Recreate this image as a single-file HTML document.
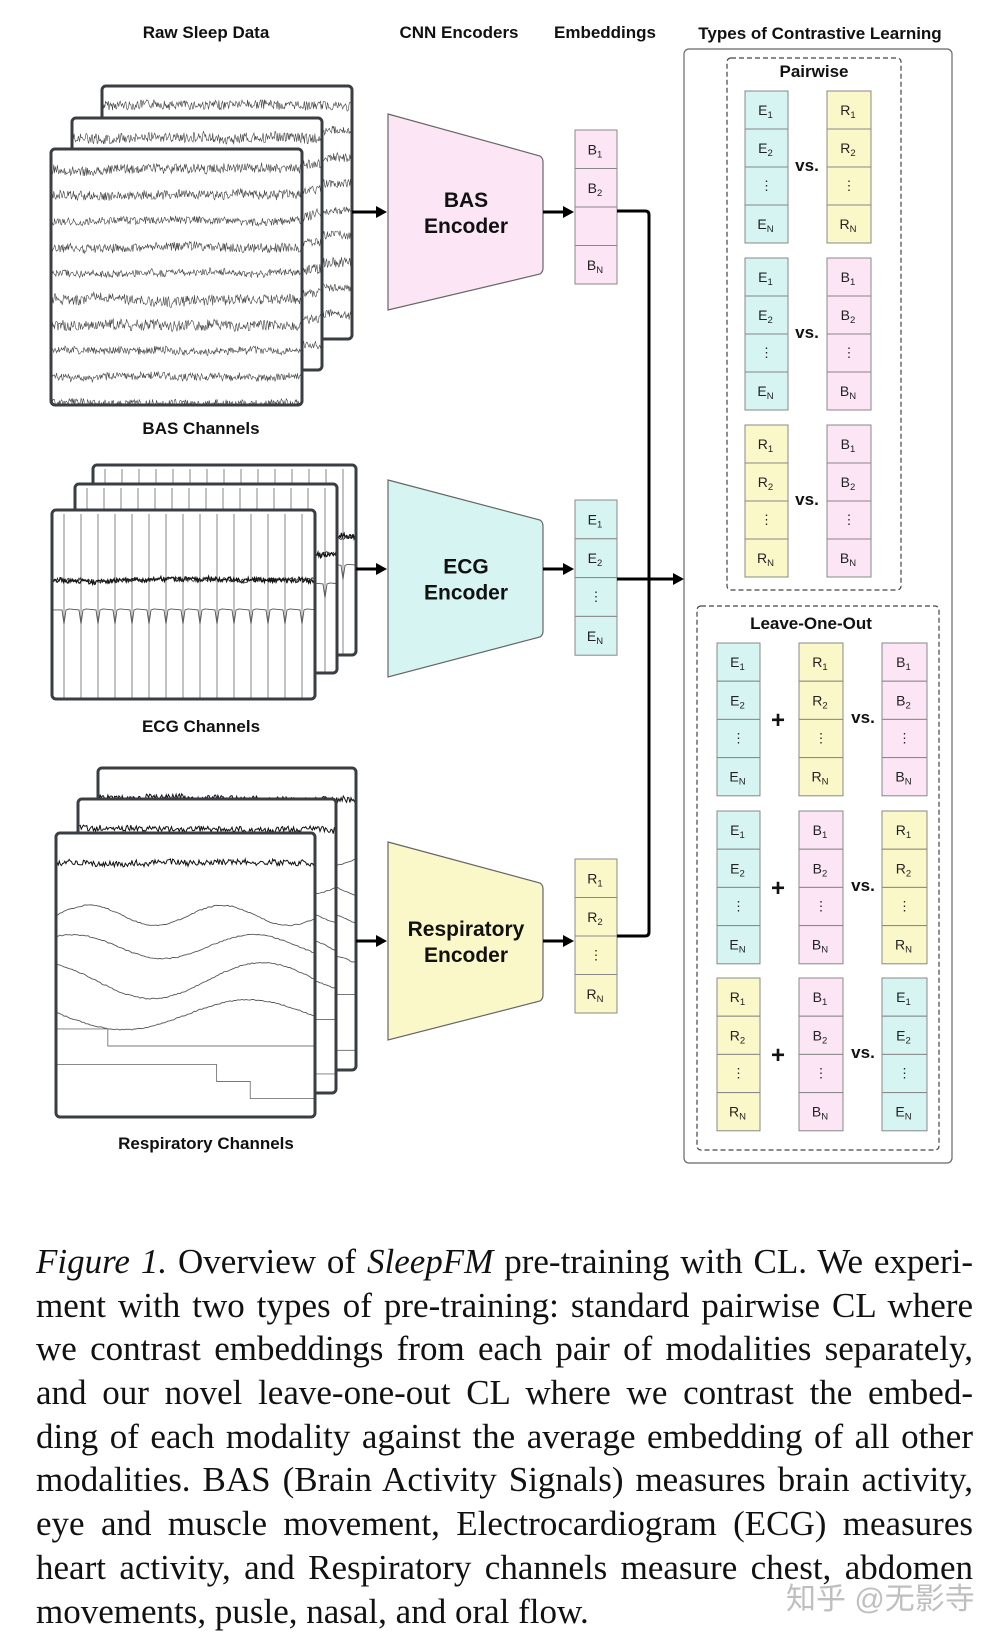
<!DOCTYPE html>
<html><head><meta charset="utf-8">
<style>
html,body{margin:0;padding:0;background:#fff;}
body{width:999px;height:1635px;position:relative;overflow:hidden;}
svg{position:absolute;left:0;top:0;}
.cap{position:absolute;left:36px;width:937px;font-family:"Liberation Serif",serif;font-size:35px;color:#111;}
.cap div{height:43.7px;line-height:43.7px;text-align:justify;text-align-last:justify;white-space:nowrap;}
.cap div.last{text-align:left;text-align-last:left;}
.wm{position:absolute;left:786px;top:1574px;font-family:"Liberation Sans","Noto Sans CJK SC",sans-serif;font-size:30px;color:rgba(170,170,170,0.75);}
</style></head><body>
<svg id="s" width="999" height="1635" viewBox="0 0 999 1635" font-family="Liberation Sans, sans-serif">
<g font-weight="bold" font-size="17" fill="#111" text-anchor="middle">
<text x="206" y="38">Raw Sleep Data</text>
<text x="459" y="38">CNN Encoders</text>
<text x="605" y="38">Embeddings</text>
<text x="820" y="39">Types of Contrastive Learning</text>
<text x="201" y="434">BAS Channels</text>
<text x="201" y="732">ECG Channels</text>
<text x="206" y="1149">Respiratory Channels</text>
</g>
<g id="waves"></g>
<g id="dia"></g>
</svg>
<div class="cap" style="top:1240px">
<div><i>Figure 1.</i> Overview of <i>SleepFM</i> pre-training with CL. We experi-</div>
<div>ment with two types of pre-training: standard pairwise CL where</div>
<div>we contrast embeddings from each pair of modalities separately,</div>
<div>and our novel leave-one-out CL where we contrast the embed-</div>
<div>ding of each modality against the average embedding of all other</div>
<div>modalities. BAS (Brain Activity Signals) measures brain activity,</div>
<div>eye and muscle movement, Electrocardiogram (ECG) measures</div>
<div>heart activity, and Respiratory channels measure chest, abdomen</div>
<div class="last">movements, pusle, nasal, and oral flow.</div>
</div>
<div class="wm">知乎 @无影寺</div>
<script>
var NS="http://www.w3.org/2000/svg";
var W=document.getElementById("waves"),D=document.getElementById("dia");
var seed=7;function rnd(){seed=(seed*9301+49297)%233280;return seed/233280;}
function el(p,tag,a,txt){var e=document.createElementNS(NS,tag);for(var k in a)e.setAttribute(k,a[k]);if(txt!=null)e.textContent=txt;p.appendChild(e);return e;}
function sheet(x1,y1,x2,y2,fn){
 var g=el(W,"g",{});
 var id="c"+Math.floor(rnd()*1e9);
 var cp=el(g,"clipPath",{id:id});el(cp,"rect",{x:x1,y:y1,width:x2-x1,height:y2-y1});
 el(g,"rect",{x:x1,y:y1,width:x2-x1,height:y2-y1,fill:"#fff"});
 var inner=el(g,"g",{"clip-path":"url(#"+id+")"});
 fn(inner,x1,y1,x2,y2);
 el(g,"rect",{x:x1,y:y1,width:x2-x1,height:y2-y1,rx:4,fill:"none",stroke:"#3a3d42","stroke-width":3});
}
function noisy(g,x1,x2,y,amp,col,sw,step){
 var d="M"+x1+" "+y,v=0,w=0;
 for(var x=x1;x<=x2;x+=step){w=w*0.97+(rnd()-0.5)*0.8;v=(rnd()-0.5)*amp;d+=" L"+x.toFixed(1)+" "+(y+w+v).toFixed(1);}
 el(g,"path",{d:d,fill:"none",stroke:col,"stroke-width":sw});
}
function bas(g,x1,y1,x2,y2){
 for(var y=y1+20;y<y2;y+=26){noisy(g,x1,x2,y,7+rnd()*4,"#444",0.6,0.7);}
}
function ecg(g,x1,y1,x2,y2){
 for(var x=x1+12;x<x2;x+=17){el(g,"line",{x1:x,y1:y1+4,x2:x,y2:y2,stroke:"#666","stroke-width":0.8});}
 var cy=y1+(y2-y1)*0.37;
 noisy(g,x1,x2,cy,5,"#111",1.2,0.9);noisy(g,x1,x2,cy,4,"#222",0.8,0.9);
 var d="M"+x1+" "+(cy+30);
 for(var x=x1;x<x2;x+=17){d+=" L"+(x+10)+" "+(cy+30)+" L"+(x+12)+" "+(cy+44)+" L"+(x+14)+" "+(cy+30)+" L"+(x+17)+" "+(cy+29);}
 el(g,"path",{d:d,fill:"none",stroke:"#555","stroke-width":0.9});
}
function resp(g,x1,y1,x2,y2){
 var h=y2-y1;
 noisy(g,x1,x2,y1+30,6,"#111",1,1.1);
 var rows=[[0.29,10,3],[0.40,12,2.2],[0.52,18,1.8],[0.64,15,1.6]];
 rows.forEach(function(r,i){var d="";for(var x=x1;x<=x2;x+=2){var t=(x-x1)/(x2-x1);var y=y1+h*r[0]-r[1]*Math.sin(t*Math.PI*r[2]*1.3+i)+(rnd()-0.5)*1.2;d+=(d?" L":"M")+x+" "+y.toFixed(1);}el(g,"path",{d:d,fill:"none",stroke:"#555","stroke-width":0.9});});
 var sx=x1+(x2-x1)*0.2;
 el(g,"path",{d:"M"+x1+" "+(y1+h*0.69)+" H"+sx+" V"+(y1+h*0.75)+" H"+x2,fill:"none",stroke:"#777","stroke-width":0.9});
 var sx2=x1+(x2-x1)*0.62,sx3=x1+(x2-x1)*0.75;
 el(g,"path",{d:"M"+x1+" "+(y1+h*0.815)+" H"+sx2+" V"+(y1+h*0.875)+" H"+sx3+" V"+(y1+h*0.935)+" H"+x2,fill:"none",stroke:"#777","stroke-width":0.9});
}
sheet(102,86,352,339,bas);sheet(72,118,322,370,bas);sheet(51,149,302,405,bas);
sheet(93,465,356,655,ecg);sheet(75,484,337,673,ecg);sheet(52,510,315,699,ecg);
sheet(98,768,356,1070,resp);sheet(78,799,336,1093,resp);sheet(56,833,315,1117,resp);

function arrow(x1,y,x2,sw){el(D,"line",{x1:x1,y1:y,x2:x2-9,y2:y,stroke:"#000","stroke-width":sw||3});el(D,"polygon",{points:(x2-11)+","+(y-6)+" "+x2+","+y+" "+(x2-11)+","+(y+6),fill:"#000"});}
function enc(ly1,ly2,ry1,ry2,fill,stroke,t1,t2){
 el(D,"path",{d:"M388 "+ly1+" L540 "+ry1+" Q543 "+(ry1+2)+" 543 "+(ry1+6)+" L543 "+(ry2-6)+" Q543 "+(ry2-2)+" 540 "+ry2+" L388 "+ly2+" Z",fill:fill,stroke:stroke,"stroke-width":1.2});
 var cy=(ly1+ly2)/2;
 el(D,"text",{x:466,y:cy-5,"text-anchor":"middle","font-weight":"bold","font-size":21,fill:"#111"},t1);
 el(D,"text",{x:466,y:cy+21,"text-anchor":"middle","font-weight":"bold","font-size":21,fill:"#111"},t2);
}
enc(114,310,156,274,"#fce6f5","#666","BAS","Encoder");
enc(480,677,520,637,"#d6f5f2","#666","ECG","Encoder");
enc(842,1040,883,1001,"#faf8c8","#666","Respiratory","Encoder");
arrow(352,212,387);arrow(356,569,387);arrow(356,941,387);
arrow(543,212,574);arrow(543,569,574);arrow(543,941,574);
var fills={B:"#fce6f5",E:"#d6f5f2",R:"#faf8c8"};
function cell(x,y,w,h,L,idx){
 el(D,"rect",{x:x,y:y,width:w,height:h,fill:fills[L],stroke:"#888","stroke-width":1});
 var cx=x+w/2,cy=y+h/2+5;
 if(idx==="d"){el(D,"text",{x:cx,y:cy-1,"text-anchor":"middle","font-size":13,fill:"#222"},"⋮");return;}
 if(idx==="b")return;
 var t=el(D,"text",{x:cx-1,y:cy,"text-anchor":"middle","font-size":14,fill:"#222"});
 var a=document.createElementNS(NS,"tspan");a.textContent=L;t.appendChild(a);
 var b=document.createElementNS(NS,"tspan");b.setAttribute("font-size","9.5");b.setAttribute("dy","3");b.textContent=idx;t.appendChild(b);
}
function col(x,y,w,h,L,blank){var ids=["1","2",blank?"b":"d","N"];for(var i=0;i<4;i++)cell(x,y+i*h,w,h,L,ids[i]);}
col(575,130,42,38.5,"B",true);col(575,500,42,38.8,"E");col(575,859,42,38.5,"R");
el(D,"path",{d:"M617 211 H645 Q649 211 649 215 V932 Q649 936 645 936 H617",fill:"none",stroke:"#000","stroke-width":3});
el(D,"line",{x1:617,y1:579,x2:649,y2:579,stroke:"#000","stroke-width":3});
arrow(649,579,684);
el(D,"rect",{x:684,y:49,width:268,height:1114,rx:5,fill:"none",stroke:"#666","stroke-width":1.2});
el(D,"rect",{x:727,y:58,width:174,height:532,rx:4,fill:"none",stroke:"#444","stroke-width":1.2,"stroke-dasharray":"5,3"});
el(D,"rect",{x:697,y:606,width:242,height:544,rx:4,fill:"none",stroke:"#444","stroke-width":1.2,"stroke-dasharray":"5,3"});
el(D,"text",{x:814,y:77,"text-anchor":"middle","font-weight":"bold","font-size":17,fill:"#111"},"Pairwise");
el(D,"text",{x:811,y:629,"text-anchor":"middle","font-weight":"bold","font-size":17,fill:"#111"},"Leave-One-Out");
var pw=[[91,"E","R"],[258,"E","B"],[425,"R","B"]];
pw.forEach(function(p){col(745,p[0],43,38,p[1]);col(827,p[0],44,38,p[2]);el(D,"text",{x:807,y:p[0]+80,"text-anchor":"middle","font-weight":"bold","font-size":17,fill:"#111"},"vs.");});
var lo=[[643,"E","R","B"],[811,"E","B","R"],[978,"R","B","E"]];
lo.forEach(function(p){col(717,p[0],43,38.2,p[1]);col(799,p[0],44,38.2,p[2]);col(882,p[0],45,38.2,p[3]);
 el(D,"text",{x:778,y:p[0]+85,"text-anchor":"middle","font-weight":"bold","font-size":24,fill:"#111"},"+");
 el(D,"text",{x:863,y:p[0]+80,"text-anchor":"middle","font-weight":"bold","font-size":17,fill:"#111"},"vs.");});
</script>
</body></html>
